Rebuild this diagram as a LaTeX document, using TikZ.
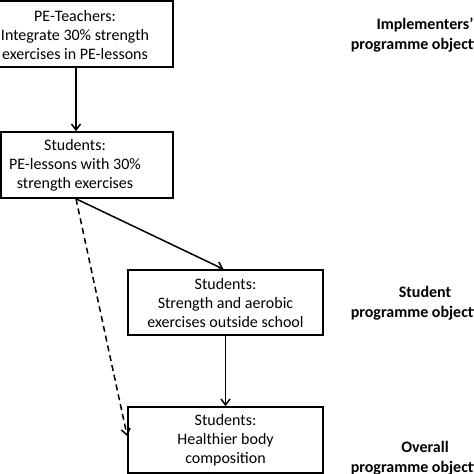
\documentclass[tikz,border=0pt]{standalone}
\usepackage{fontspec}
\setmainfont{Carlito}
\usetikzlibrary{arrows.meta}
\begin{document}
\begin{tikzpicture}[x=1pt,y=-1pt,
  box/.style={draw, line width=1.6pt, inner sep=0pt},
  txt/.style={align=center, font=\fontsize{16}{19}\selectfont, inner sep=0pt},
  lbl/.style={align=center, font=\fontsize{16}{20}\selectfont\bfseries, inner sep=0pt},
  arr/.style={line width=1.5pt, -{Straight Barb[length=6pt,width=9pt]}},
]
\useasboundingbox (0,0) rectangle (474,474);
\clip (0,0) rectangle (474,474);
% boxes
\node[box, minimum width=194pt, minimum height=66pt] (b1) at (76,34) {};
\node[box, minimum width=172.2pt, minimum height=66pt] (b2) at (86.9,165) {};
\node[box, minimum width=195pt, minimum height=65pt] (b3) at (225.5,302.5) {};
\node[box, minimum width=195pt, minimum height=66pt] (b4) at (225.5,440) {};
% box texts
\node[txt] (t1) at (75,35) {PE-Teachers:\\Integrate 30\% strength\\exercises in PE-lessons};
\node[txt] (t2) at (75,165) {Students:\\PE-lessons with 30\%\\strength exercises};
\node[txt] (t3) at (225.5,302.5) {Students:\\Strength and aerobic\\exercises outside school};
\node[txt] (t4) at (225.5,440.5) {Students:\\Healthier body\\composition};
% side labels
\node[lbl] (l1) at (425,35) {Implementers'\\programme objectives};
\node[lbl] (l2) at (425,303) {Student\\programme objectives};
\node[lbl] (l3) at (425,458) {Overall\\programme objectives};
% connectors
\coordinate (s2) at (b1.south |- b2.south);
\draw[arr] (b1.south) -- (b1.south |- b2.north);
\draw[arr] (s2) -- ([xshift=-2pt]b3.north);
\draw[arr] (b3.south) -- (b4.north);
\draw[arr, dash pattern=on 6pt off 4pt] (s2) -- ([yshift=4pt]b4.west);
\end{tikzpicture}
\end{document}
